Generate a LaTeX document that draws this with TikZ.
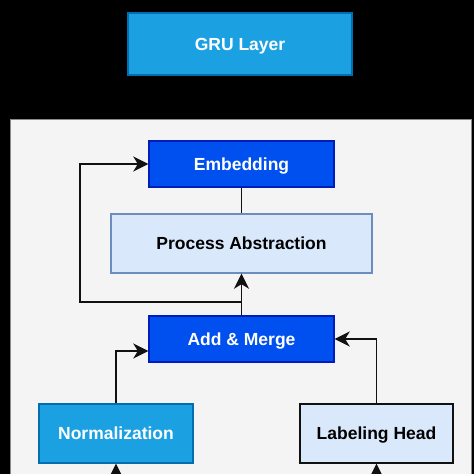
\documentclass[tikz,border=0pt]{standalone}
\usepackage{fontspec}
\setmainfont{Liberation Sans}
\usetikzlibrary{arrows.meta}
\definecolor{panelfill}{HTML}{F4F4F4}
\definecolor{panelline}{HTML}{8A8A8A}
\definecolor{strongfill}{HTML}{0050EF}
\definecolor{strongline}{HTML}{001DBC}
\definecolor{skyfill}{HTML}{1BA1E2}
\definecolor{skyline}{HTML}{006EAF}
\definecolor{lightfill}{HTML}{DAE8FC}
\definecolor{lightline}{HTML}{6C8EBF}
\definecolor{conncol}{HTML}{111111}
\tikzset{
  box/.style={rectangle, inner sep=0pt, line width=1.4pt, text height=12.5pt, text depth=0pt, font=\fontsize{17.5}{20}\selectfont\bfseries},
  skybox/.style={box, fill=skyfill, draw=skyline, text=white},
  strongbox/.style={box, fill=strongfill, draw=strongline, text=white},
  lightbox/.style={box, fill=lightfill, draw=lightline, text=black},
  darklightbox/.style={box, fill=lightfill, draw=conncol, text=black},
  conn/.style={draw=conncol, line width=1.9pt},
  arr/.style={conn, -{Stealth[length=15pt, width=15pt, inset=4.5pt]}},
}
\begin{document}
\begin{tikzpicture}[x=1pt, y=-1pt]
\useasboundingbox (0,0) rectangle (474,474);
\fill[black] (0,0) rectangle (474,474);
\begin{scope}
\clip (0,0) rectangle (474,474);
\draw[fill=panelfill, draw=panelline, line width=1pt] (10.5,119) rectangle (471,490);

\node[skybox, minimum width=224pt, minimum height=62pt] (gru) at (240,44) {GRU Layer};
\node[strongbox, minimum width=185pt, minimum height=46pt] (emb) at (241.5,164) {Embedding};
\node[lightbox, minimum width=261pt, minimum height=59pt] (proc) at (241.5,243.5) {Process Abstraction};
\node[strongbox, minimum width=185pt, minimum height=46pt] (add) at (241.5,339) {Add \& Merge};
\node[skybox, minimum width=154pt, minimum height=59pt] (norm) at (116,433.5) {Normalization};
\node[darklightbox, minimum width=153pt, minimum height=59pt] (lab) at (376.5,433.5) {Labeling Head};

\coordinate (j) at (241.5,302);
\coordinate (lp) at (80,302);
\coordinate (nb) at (116,500);
\coordinate (lb) at (376.5,500);

\draw[conn] (emb.south) -- (proc.north);
\draw[arr] (add.north) -- (proc.south);
\draw[arr] (j) -- (lp) |- (emb.west);
\draw[arr] (norm.north) |- ([yshift=-12pt]add.west);
\draw[arr] (lab.north) |- (add.east);
\draw[arr] (nb) -- (norm.south);
\draw[arr] (lb) -- (lab.south);
\end{scope}
\end{tikzpicture}
\end{document}
